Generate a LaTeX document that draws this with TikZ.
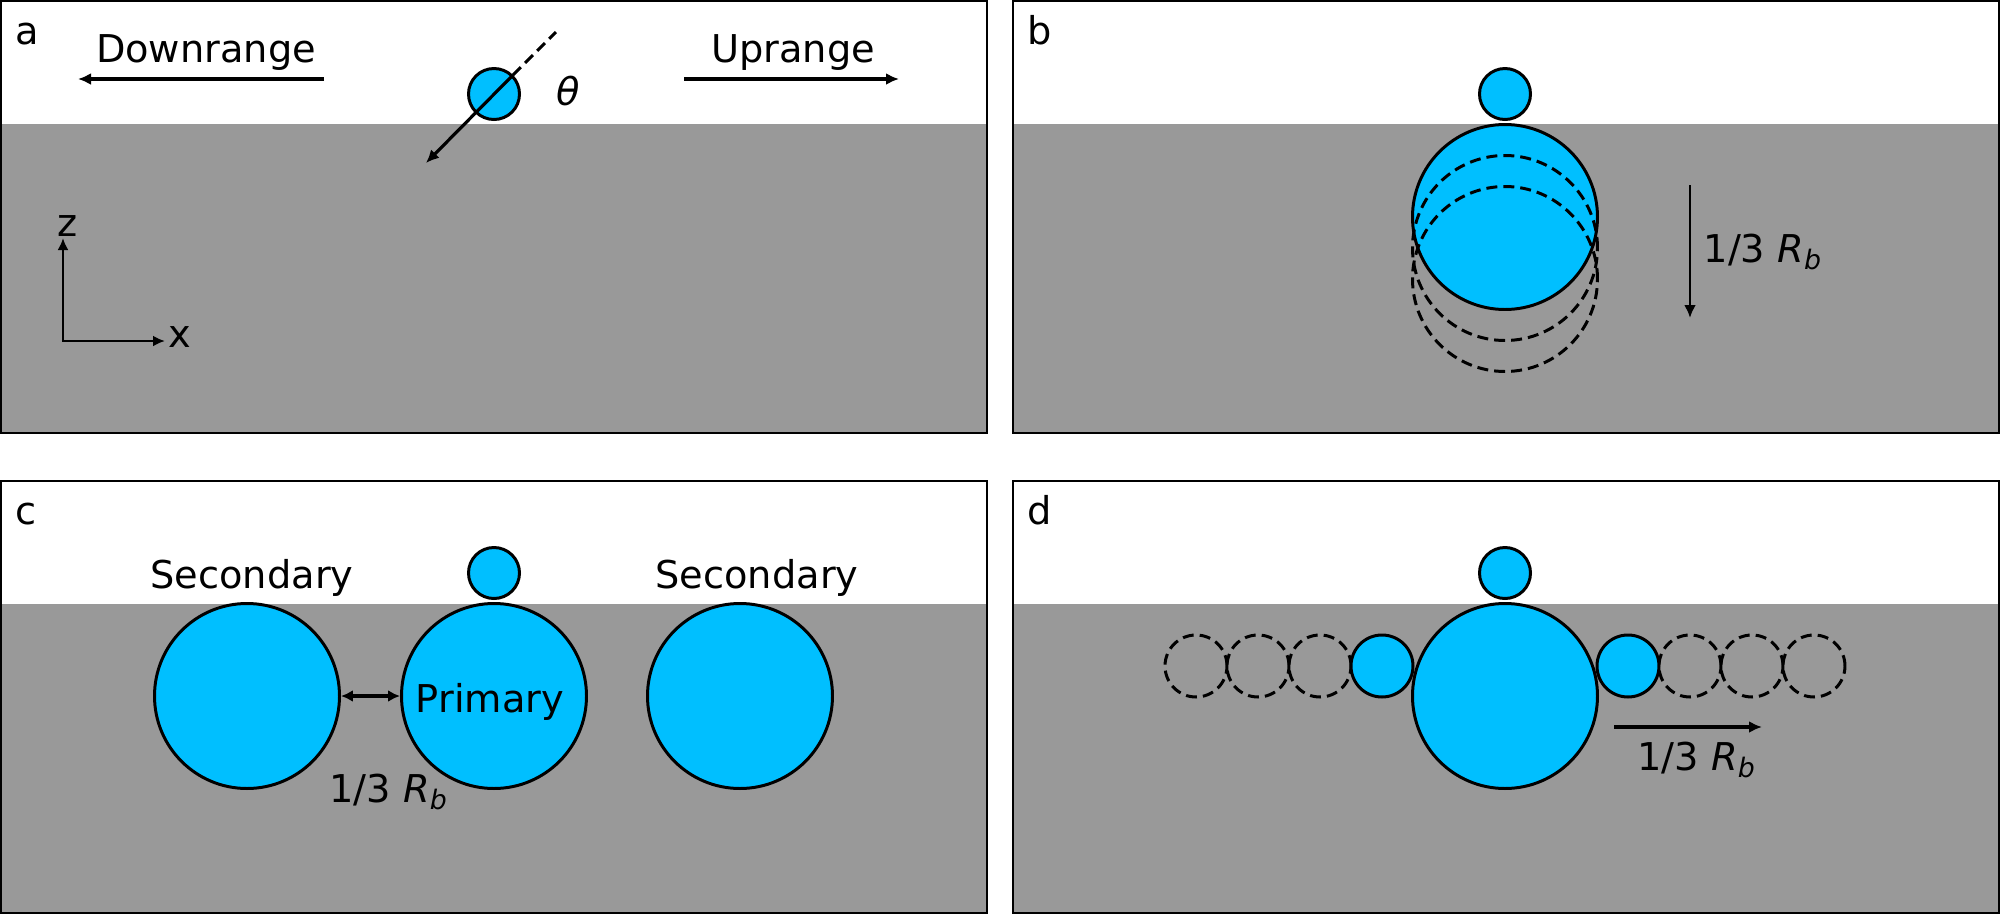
\documentclass[tikz,border=0pt]{standalone}
\usepackage{fontspec}
\setmainfont{DejaVu Sans}
\usetikzlibrary{arrows.meta}
\definecolor{skyblue}{HTML}{00BFFF}
\definecolor{ground}{HTML}{999999}
\newcommand{\rthird}{1/3 \textit{R}\textsubscript{\textit{b}}}

\begin{document}
\begin{tikzpicture}[x=0.1mm, y=-0.1mm,
    font=\fontsize{10.9}{13}\selectfont,
    panel/.style={draw, line width=0.6pt},
    drop/.style={circle, draw, fill=skyblue, line width=0.85pt, inner sep=0pt, minimum size=5.1mm},
    bubble/.style={circle, draw, fill=skyblue, line width=0.85pt, inner sep=0pt, minimum size=18.5mm},
    sat/.style={circle, draw, fill=skyblue, line width=0.85pt, inner sep=0pt, minimum size=6.2mm},
    ghost/.style={circle, draw, line width=0.85pt, dash pattern=on 1.1mm off 0.6mm, inner sep=0pt, minimum size=#1},
    arr/.style={line width=0.9pt, -{Latex[length=1.3mm, width=1.2mm]}},
    lab/.style={anchor=base west, inner sep=0pt},
    txt/.style={anchor=base, inner sep=0pt}
]

    \useasboundingbox (0,0) rectangle (2000,914);

    % Panel a: impact direction
    \begin{scope}[shift={(1,1)}]

    % background
    \fill[ground] (0,123) rectangle (986,432);
    \draw[panel] (0,0) rectangle (986,432);
    \node[lab] (la) at (14,43) {a};

    % directions
    \node[txt] (down) at (205,61) {Downrange};
    \node[txt] (up) at (792,61) {Uprange};
    \coordinate (d1) at (323,78);
    \coordinate (d2) at (77,78);
    \coordinate (u1) at (683,78);
    \coordinate (u2) at (898,78);
    \draw[arr] (d1) -- (d2);
    \draw[arr] (u1) -- (u2);

    % drop and trajectory
    \node[drop] (dropa) at (493,93) {};
    \coordinate (enda) at (555,31);
    \coordinate (tipa) at (425,162);
    \draw[line width=0.85pt, dash pattern=on 1.1mm off 0.6mm] (dropa.north east) -- (enda);
    \draw[arr] (dropa.north east) -- (tipa);
    \node (th) at (567,90) {\textit{θ}};

    % axes
    \coordinate (ztip) at (62,237);
    \coordinate (xtip) at (164,340);
    \draw[line width=0.75pt, {Latex[length=1.2mm, width=1.1mm]}-{Latex[length=1.2mm, width=1.1mm]}] (ztip) |- (xtip);
    \node (zl) at (67,225) {z};
    \node (xl) at (179,336) {x};

    \end{scope}


    % Panel b: bubble sinking
    \begin{scope}[shift={(1013,1)}]

    \fill[ground] (0,123) rectangle (986,432);
    \draw[panel] (0,0) rectangle (986,432);
    \node[lab] (lb) at (14,43) {b};

    \node[drop] (dropb) at (492,93) {};
    \node[bubble] (mainb) at (492,216) {};
    \node[ghost=18.5mm] (gb1) at (492,247) {};
    \node[ghost=18.5mm] (gb2) at (492,278) {};

    \coordinate (sb1) at (677,184);
    \coordinate (sb2) at (677,317);
    \draw[arr, line width=0.75pt] (sb1) -- (sb2);
    \node[lab] (rb) at (690,261) {\rthird};

    \end{scope}


    % Panel c: primary and secondary bubbles
    \begin{scope}[shift={(1,481)}]

    \fill[ground] (0,123) rectangle (986,432);
    \draw[panel] (0,0) rectangle (986,432);
    \node[lab] (lc) at (14,43) {c};

    \node[drop] (dropc) at (493,92) {};
    \node[bubble] (secl) at (246,215) {};
    \node[bubble] (prim) at (493,215) {};
    \node[bubble] (secr) at (739,215) {};

    \node[txt] (tsl) at (251,107) {Secondary};
    \node[txt] (tsr) at (756,107) {Secondary};
    \node[txt] (tp) at (489,231) {Primary};

    \draw[line width=0.9pt, {Latex[length=1.2mm, width=1.2mm]}-{Latex[length=1.2mm, width=1.2mm]}] (secl.east) -- (prim.west);
    \node[txt] (rc) at (388,321) {\rthird};

    \end{scope}


    % Panel d: satellite bubbles moving out
    \begin{scope}[shift={(1013,481)}]

    \fill[ground] (0,123) rectangle (986,432);
    \draw[panel] (0,0) rectangle (986,432);
    \node[lab] (ld) at (14,43) {d};

    % dashed positions
    \node[ghost=6.2mm] (gl1) at (307,185) {};
    \node[ghost=6.2mm] (gl2) at (245,185) {};
    \node[ghost=6.2mm] (gl3) at (183,185) {};
    \node[ghost=6.2mm] (gr1) at (677,185) {};
    \node[ghost=6.2mm] (gr2) at (739,185) {};
    \node[ghost=6.2mm] (gr3) at (801,185) {};

    % bubbles
    \node[drop] (dropd) at (492,92) {};
    \node[bubble] (maind) at (492,215) {};
    \node[sat] (satl) at (369,185) {};
    \node[sat] (satr) at (615,185) {};

    \coordinate (sd1) at (601,246);
    \coordinate (sd2) at (749,246);
    \draw[arr] (sd1) -- (sd2);
    \node[txt] (rd) at (684,289) {\rthird};

    \end{scope}

\end{tikzpicture}
\end{document}
